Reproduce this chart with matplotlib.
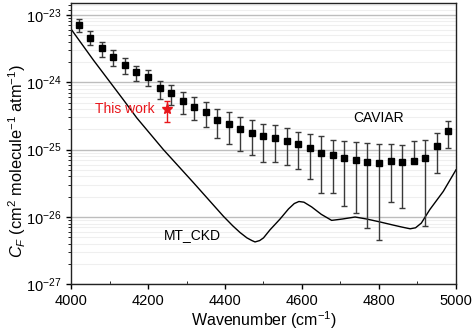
import numpy as np
import matplotlib
matplotlib.use('Agg')
import matplotlib.pyplot as plt
from matplotlib.ticker import MultipleLocator, FixedLocator, NullFormatter, LogFormatterSciNotation

plt.rcParams['font.family'] = ['Liberation Sans', 'DejaVu Sans']
plt.rcParams['mathtext.fontset'] = 'custom'
plt.rcParams['mathtext.rm'] = 'Liberation Sans'
plt.rcParams['mathtext.it'] = 'Liberation Sans:italic'

# CAVIAR points: wavenumber, value, upper and lower ends of the error bars
wn = np.arange(4020, 5000, 30)
caviar = [7.11e-24, 4.61e-24, 3.21e-24, 2.39e-24, 1.80e-24, 1.43e-24, 1.19e-24,
          8.20e-25, 6.82e-25, 5.26e-25, 4.33e-25, 3.57e-25, 2.78e-25, 2.39e-25,
          2.03e-25, 1.79e-25, 1.57e-25, 1.49e-25, 1.36e-25, 1.20e-25, 1.04e-25,
          8.93e-26, 8.24e-26, 7.54e-26, 7.04e-26, 6.57e-26, 6.41e-26, 6.87e-26,
          6.57e-26, 6.71e-26, 7.54e-26, 1.12e-25, 1.87e-25]
caviar_hi = [8.63e-24, 5.74e-24, 4.02e-24, 3.03e-24, 2.29e-24, 1.77e-24, 1.50e-24,
             1.06e-24, 8.97e-25, 7.06e-25, 5.96e-25, 5.02e-25, 4.01e-25, 3.57e-25,
             3.05e-25, 2.72e-25, 2.43e-25, 2.29e-25, 2.07e-25, 1.85e-25, 1.71e-25,
             1.57e-25, 1.41e-25, 1.33e-25, 1.28e-25, 1.24e-25, 1.23e-25, 1.20e-25,
             1.17e-25, 1.33e-25, 1.41e-25, 1.77e-25, 2.69e-25]
caviar_lo = [5.55e-24, 3.59e-24, 2.41e-24, 1.75e-24, 1.31e-24, 1.04e-24, 8.67e-25,
             5.64e-25, 4.64e-25, 3.33e-25, 2.72e-25, 2.17e-25, 1.51e-25, 1.20e-25,
             9.66e-26, 8.24e-26, 6.64e-26, 6.64e-26, 6.00e-26, 5.24e-26, 3.72e-26,
             2.25e-26, 2.25e-26, 1.48e-26, 1.13e-26, 6.76e-27, 4.49e-27, 1.66e-26,
             1.34e-26, 6.71e-26, 7.41e-27, 4.52e-26, 1.04e-25]

# MT_CKD continuum (log10 of C_F)
ckd_wn = [4000, 4058, 4136, 4171, 4240, 4318, 4396, 4420, 4439, 4457, 4470, 4478,
          4490, 4500, 4517, 4543, 4565, 4580, 4592, 4605, 4625, 4650, 4677, 4705,
          4738, 4768, 4800, 4837, 4860, 4881, 4895, 4910, 4932, 4967, 5000]
ckd_log = [-23.21, -23.67, -24.26, -24.53, -25.0, -25.49, -25.99, -26.13, -26.23,
           -26.31, -26.35, -26.37, -26.35, -26.31, -26.19, -26.03, -25.88, -25.80,
           -25.77, -25.78, -25.85, -25.96, -26.05, -26.03, -26.00, -26.03, -26.07,
           -26.12, -26.15, -26.175, -26.16, -26.09, -25.89, -25.62, -25.30]

# this work
tw_wn = 4250
tw_val = 4.0e-25
tw_hi = 5.32e-25
tw_lo = 2.60e-25

decades = [1e-27, 1e-26, 1e-25, 1e-24, 1e-23]

caviar = np.array(caviar)
yerr = [caviar - np.array(caviar_lo), np.array(caviar_hi) - caviar]

fig = plt.figure(figsize=(4.74, 3.33), dpi=100)
ax = fig.add_axes([0.1498, 0.146, 0.8122, 0.845])

ax.plot(ckd_wn, 10 ** np.array(ckd_log), color='black', lw=1.0)
ax.errorbar(wn, caviar, yerr=yerr, fmt='s', color='black', ms=4.5,
            ecolor='#3a3a3a', elinewidth=1.0, capsize=2.2, capthick=1.0)
ax.errorbar([tw_wn], [tw_val], yerr=[[tw_val - tw_lo], [tw_hi - tw_val]],
            fmt='*', color='#e8161b', ms=8, ecolor='#e8161b', elinewidth=1.0,
            capsize=2.2, capthick=1.0)

ax.set_yscale('log')
ax.set_xlim(4000, 5000)
ax.set_ylim(1e-27, 1.5e-23)
ax.xaxis.set_major_locator(MultipleLocator(200))
ax.xaxis.set_minor_locator(MultipleLocator(100))
minors = [m * d for d in decades[:-1] for m in range(2, 10)] + [1.2e-23, 1.4e-23]
ax.yaxis.set_major_locator(FixedLocator(decades))
ax.yaxis.set_major_formatter(LogFormatterSciNotation())
ax.yaxis.set_minor_locator(FixedLocator(minors))
ax.yaxis.set_minor_formatter(NullFormatter())

ax.grid(True, which='major', axis='y', color='#bdbdbd', lw=1.0)
ax.grid(True, which='minor', axis='y', color='#efefef', lw=0.8)
ax.set_axisbelow(True)

ax.tick_params(axis='both', which='major', labelsize=10.5, direction='out', length=3.5, width=1)
ax.tick_params(axis='x', which='minor', direction='in', length=2.5)
ax.tick_params(axis='y', which='minor', direction='out', length=2)
for s in ax.spines.values():
    s.set_linewidth(1.0)
    s.set_color('#222222')

ax.set_xlabel('Wavenumber (cm$^{-1}$)', fontsize=11.5, labelpad=1)
ax.set_ylabel('$C_F$ (cm$^2$ molecule$^{-1}$ atm$^{-1}$)', fontsize=11.75)
ax.yaxis.set_label_coords(-0.112, 0.44)

ax.text(4218, tw_val, 'This work', color='#e8161b', fontsize=10, ha='right', va='center')
ax.text(4800, 2.9e-25, 'CAVIAR', color='black', fontsize=10, ha='center', va='center')
ax.text(4315, 5.4e-27, 'MT_CKD', color='black', fontsize=10, ha='center', va='center')

fig.savefig('out.png', dpi=100)
